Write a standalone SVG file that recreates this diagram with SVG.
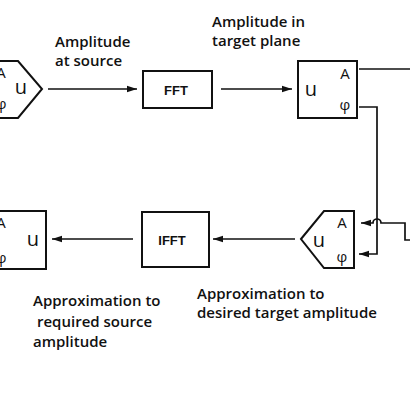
<svg xmlns="http://www.w3.org/2000/svg" width="410" height="410" viewBox="0 0 410 410">
<defs>
<style>
.shape{fill:#fff;stroke:#111;stroke-width:2}
.wire{fill:none;stroke:#111;stroke-width:1.7}
.lbl{font-family:"Open Sans","DejaVu Sans",sans-serif;font-weight:600;font-size:15px;fill:#111}
.blk{font-family:"Liberation Sans",Arial,sans-serif;font-weight:bold;font-size:13px;fill:#111;text-anchor:middle}
.u{font-family:"Open Sans","DejaVu Sans",sans-serif;font-weight:500;font-size:20px;fill:#111;text-anchor:middle}
.p{font-family:"Open Sans","DejaVu Sans",sans-serif;font-size:15px;fill:#111;text-anchor:middle}
</style>
<marker id="ah" markerUnits="userSpaceOnUse" markerWidth="10" markerHeight="8" viewBox="0 0 10 8" refX="10" refY="4" orient="auto">
<path d="M0,0.8 L10,4 L0,7.2 z" fill="#111"/>
</marker>
</defs>
<rect width="410" height="410" fill="#fff"/>

<g id="source-top">
<polygon class="shape" points="-20,61 18,61 42,89 18,118 -20,118"/>
<text class="p" x="1" y="78">A</text>
<text class="u" x="21" y="94">u</text>
<text class="p" x="1" y="109">φ</text>
</g>

<g id="fft">
<rect class="shape" x="143" y="71" width="69" height="37"/>
<text class="blk" x="176" y="95">FFT</text>
</g>

<g id="target">
<rect class="shape" x="298" y="61" width="59" height="57"/>
<text class="u" x="311" y="96">u</text>
<text class="p" x="345" y="79">A</text>
<text class="p" x="345" y="110">φ</text>
</g>

<g id="target-constraint">
<polygon class="shape" points="301,239 324,211 354,211 354,268 324,268"/>
<text class="u" x="319" y="247">u</text>
<text class="p" x="342" y="228">A</text>
<text class="p" x="342" y="262">φ</text>
</g>

<g id="ifft">
<rect class="shape" x="142" y="212" width="67" height="55"/>
<text class="blk" x="172" y="245">IFFT</text>
</g>

<g id="source-bottom">
<rect class="shape" x="-10" y="211" width="56" height="58"/>
<text class="u" x="33" y="246">u</text>
<text class="p" x="1" y="228">A</text>
<text class="p" x="1" y="263">φ</text>
</g>

<g id="connectors">
<line class="wire" x1="48" y1="89" x2="137" y2="89" marker-end="url(#ah)"/>
<line class="wire" x1="221" y1="89" x2="292" y2="89" marker-end="url(#ah)"/>
<polyline class="wire" points="359,69 412,69"/>
<polyline class="wire" points="359,107 377,107 377,254 359,254" marker-end="url(#ah)"/>
<path class="wire" d="M412,240 L405,240 L405,223 L381,223 A4,4 0 0 0 373,223 L361,223" marker-end="url(#ah)"/>
<line class="wire" x1="295" y1="239" x2="213" y2="239" marker-end="url(#ah)"/>
<line class="wire" x1="133" y1="239" x2="52" y2="239" marker-end="url(#ah)"/>
</g>

<g id="labels">
<text class="lbl" x="55" y="47">Amplitude</text>
<text class="lbl" x="55" y="66">at source</text>
<text class="lbl" x="212" y="27">Amplitude in</text>
<text class="lbl" x="212" y="46">target plane</text>
<text class="lbl" x="197" y="299">Approximation to</text>
<text class="lbl" x="197" y="318">desired target amplitude</text>
<text class="lbl" x="33" y="306">Approximation to</text>
<text class="lbl" x="37" y="327">required source</text>
<text class="lbl" x="33" y="347">amplitude</text>
</g>
</svg>
